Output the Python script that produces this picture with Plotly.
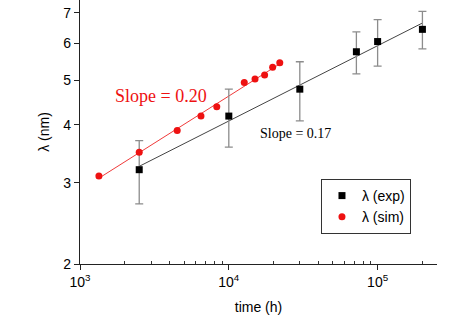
import numpy as np
import plotly.graph_objects as go

# Experimental data
exp_time = [2500, 10000, 30000, 72000, 100000, 200000]
exp_lambda = [3.2, 4.18, 4.78, 5.76, 6.06, 6.44]
exp_err = [0.5, 0.6, 0.7, 0.6, 0.7, 0.6]

# Simulated data
sim_time = [1340, 2500, 4500, 6500, 8300, 12700, 15000, 17400, 19700, 22000]
sim_lambda = [3.10, 3.49, 3.89, 4.18, 4.38, 4.94, 5.03, 5.13, 5.33, 5.45]

x_ticks = [1e3, 1e4, 1e5]
x_ticktext = ["10<sup>3</sup>", "10<sup>4</sup>", "10<sup>5</sup>"]
y_ticks = [2, 3, 4, 5, 6, 7]


def fit_line(xs, ys):
    lx, ly = np.log10(xs), np.log10(ys)
    k, b = np.polyfit(lx, ly, 1)
    xe = np.array([min(xs), max(xs)])
    return xe, 10 ** (k * np.log10(xe) + b)


fx_e, fy_e = fit_line(exp_time, exp_lambda)
fx_s, fy_s = fit_line(sim_time, sim_lambda)

fig = go.Figure()
fig.add_trace(go.Scatter(x=fx_e, y=fy_e, mode="lines",
                         line=dict(color="#444444", width=1), showlegend=False, hoverinfo="skip"))
fig.add_trace(go.Scatter(x=fx_s, y=fy_s, mode="lines",
                         line=dict(color="#f03a3a", width=1), showlegend=False, hoverinfo="skip"))
fig.add_trace(go.Scatter(x=exp_time, y=exp_lambda, mode="markers", name="λ (exp)",
                         marker=dict(symbol="square", size=7, color="black"),
                         error_y=dict(type="data", array=exp_err, color="#8c8c8c",
                                      thickness=1.3, width=4)))
fig.add_trace(go.Scatter(x=sim_time, y=sim_lambda, mode="markers", name="λ (sim)",
                         marker=dict(symbol="circle", size=7, color="#ee1111")))

minor_vals = [m * 10 ** e for e in (3, 4, 5) for m in range(2, 10) if m * 10 ** e < 2.5e5]

fig.update_xaxes(type="log", range=[3, 5.399], tickvals=x_ticks, ticktext=x_ticktext,
                 ticks="outside", ticklen=5, tickcolor="#222", showline=True,
                 linecolor="#222", linewidth=1.3, showgrid=False, zeroline=False,
                 tickfont=dict(size=14, color="black"),
                 minor=dict(tickvals=minor_vals, ticks="inside", ticklen=3, tickcolor="#333",
                            showgrid=False),
                 title=dict(text="time (h)", font=dict(size=14, color="black"), standoff=13))
fig.update_yaxes(type="log", range=[np.log10(2), 0.8724], tickvals=y_ticks,
                 ticktext=[str(v) for v in y_ticks],
                 ticks="outside", ticklen=5, tickcolor="#222", showline=True,
                 linecolor="#222", linewidth=1.3, showgrid=False, zeroline=False,
                 tickfont=dict(size=14, color="black"),
                 title=dict(text="λ (nm)", font=dict(size=14, color="black"), standoff=10))

fig.add_annotation(x=3.545, y=0.6636, xref="x", yref="y", text="Slope = 0.20",
                   showarrow=False, font=dict(family="Liberation Serif", size=18, color="#ee1111"))
fig.add_annotation(x=4.448, y=0.5824, xref="x", yref="y", text="Slope = 0.17",
                   showarrow=False, font=dict(family="Liberation Serif", size=14, color="black"))

fig.update_layout(
    width=474, height=326,
    margin=dict(l=80, r=37, t=0, b=62),
    paper_bgcolor="white", plot_bgcolor="white",
    font=dict(family="Liberation Sans, Arial", size=14, color="black"),
    legend=dict(x=0.675, y=0.322, xanchor="left", yanchor="top",
                bordercolor="#333", borderwidth=1, bgcolor="white",
                font=dict(size=14), tracegroupgap=0, itemwidth=30),
    showlegend=True,
)

fig.write_html("out.html")
